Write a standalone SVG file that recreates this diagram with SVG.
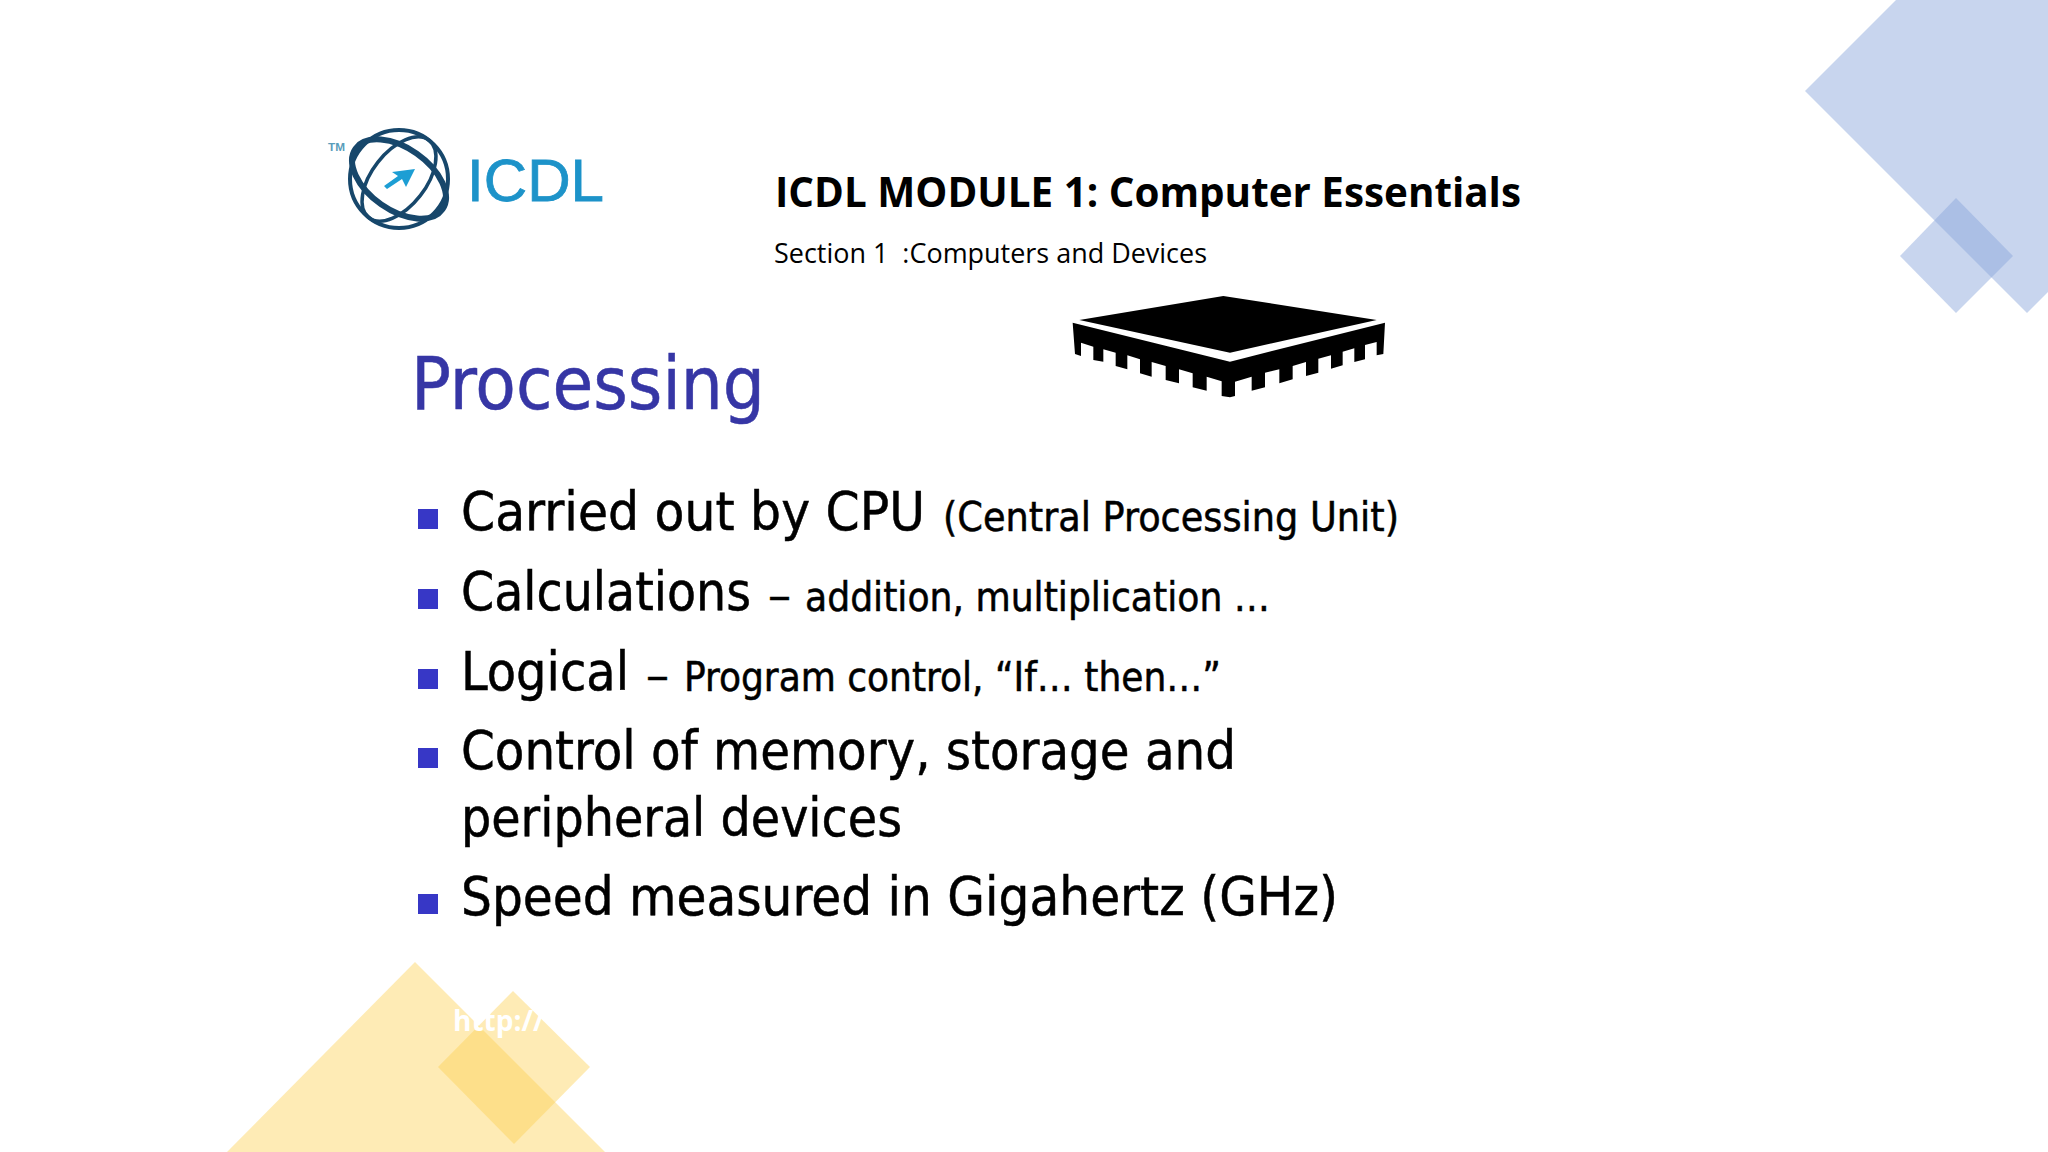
<svg xmlns="http://www.w3.org/2000/svg" width="2048" height="1152" viewBox="0 0 2048 1152">
<style>
.a{fill:#000;stroke:#000;stroke-width:.5px;font-family:"DejaVu Sans Condensed","DejaVu Sans",sans-serif}
.b{font-size:54px}
.s{font-size:40px}
.h{fill:#000;font-family:"Open Sans","Noto Sans",sans-serif}
.bul{fill:#3737c6}
.blue{fill:#8aa5db;opacity:.47}
.yel{fill:#fcd04f;opacity:.42}
.ring{fill:none;stroke:#17476b}
</style>
<rect width="2048" height="1152" fill="#fff"/>
<g id="deco">
<polygon class="blue" points="1805,91 1896,0 2048,0 2048,292 2027,313"/>
<polygon class="blue" points="1900,256 1956,198 2013,256 1956,313"/>
<polygon class="yel" points="415,962 605,1152 227,1152"/>
<polygon class="yel" points="513,991 590,1067 514,1144 438,1067"/>
</g>
<g id="logo">
<circle class="ring" cx="399" cy="179" r="49" stroke-width="4"/>
<ellipse class="ring" cx="399" cy="179" rx="53" ry="31" transform="rotate(35 399 179)" stroke-width="6"/>
<ellipse class="ring" cx="399" cy="179" rx="49" ry="27" transform="rotate(-52 399 179)" stroke-width="3.5"/>
<polygon points="415,169 392,172 398,176 384,186 387,189 402,179 406,187" fill="#1d9ed4"/>
<text x="328" y="151" font-family="Liberation Sans,sans-serif" font-weight="700" font-size="11" fill="#5a9dbb" textLength="17" lengthAdjust="spacingAndGlyphs">TM</text>
<text x="467" y="201" font-family="Liberation Sans,sans-serif" font-size="60" fill="#1d93c9" stroke="#1d93c9" stroke-width=".8" textLength="137" lengthAdjust="spacingAndGlyphs">ICDL</text>
</g>
<g id="header">
<text class="h" x="775" y="207" font-size="41" font-weight="700" textLength="746" lengthAdjust="spacingAndGlyphs">ICDL MODULE 1: Computer Essentials</text>
<text class="h" x="774" y="263" font-size="27" textLength="433" lengthAdjust="spacingAndGlyphs" xml:space="preserve">Section 1  :Computers and Devices</text>
</g>
<g id="chip" transform="translate(1050 280) scale(.33333)">
<polygon points="88,120 520,48 980,120 540,218"/>
<polygon points="68,128 540,245 1005,128 1000,222 980,226 980,186 945,195 945,238 913,246 913,205 878,215 878,256 843,266 843,226 805,236 805,278 768,288 768,246 728,258 728,298 688,310 688,268 645,278 645,322 605,332 605,290 555,305 555,348 540,352 515,348 515,304 470,290 470,332 428,322 428,280 387,268 387,310 347,300 347,258 305,246 305,290 270,280 270,238 232,226 232,268 197,258 197,218 160,208 160,245 130,240 130,200 93,188 93,228 75,222"/>
</g>
<g id="title"><text x="411" y="409" font-family="DejaVu Sans Condensed,DejaVu Sans,sans-serif" font-size="73" fill="#3636a5" stroke="#3636a5" stroke-width=".5" textLength="354" lengthAdjust="spacingAndGlyphs">Processing</text></g>
<g id="bullets">
<rect class="bul" x="418" y="509" width="20" height="20"/>
<rect class="bul" x="418" y="589" width="20" height="20"/>
<rect class="bul" x="418" y="669" width="20" height="20"/>
<rect class="bul" x="418" y="748" width="20" height="20"/>
<rect class="bul" x="418" y="894" width="20" height="20"/>
<text class="a b" x="461" y="530" textLength="464" lengthAdjust="spacingAndGlyphs">Carried out by CPU</text>
<text class="a s" x="943" y="531" textLength="456" lengthAdjust="spacingAndGlyphs">(Central Processing Unit)</text>
<text class="a b" x="461" y="610" textLength="290" lengthAdjust="spacingAndGlyphs">Calculations</text>
<text class="a s" x="768" y="610" textLength="23" lengthAdjust="spacingAndGlyphs">–</text>
<text class="a s" x="805" y="611" textLength="465" lengthAdjust="spacingAndGlyphs">addition, multiplication …</text>
<text class="a b" x="461" y="690" textLength="168" lengthAdjust="spacingAndGlyphs">Logical</text>
<text class="a s" x="646" y="690" textLength="23" lengthAdjust="spacingAndGlyphs">–</text>
<text class="a s" x="684" y="691" textLength="537" lengthAdjust="spacingAndGlyphs">Program control, “If… then…”</text>
<text class="a b" x="461" y="769" textLength="775" lengthAdjust="spacingAndGlyphs">Control of memory, storage and</text>
<text class="a b" x="461" y="836" textLength="441" lengthAdjust="spacingAndGlyphs">peripheral devices</text>
<text class="a b" x="461" y="915" textLength="877" lengthAdjust="spacingAndGlyphs">Speed measured in Gigahertz (GHz)</text>
</g>
<text x="453" y="1031" font-family="Open Sans,sans-serif" font-weight="700" font-size="28" fill="#fff">http://</text>
</svg>
